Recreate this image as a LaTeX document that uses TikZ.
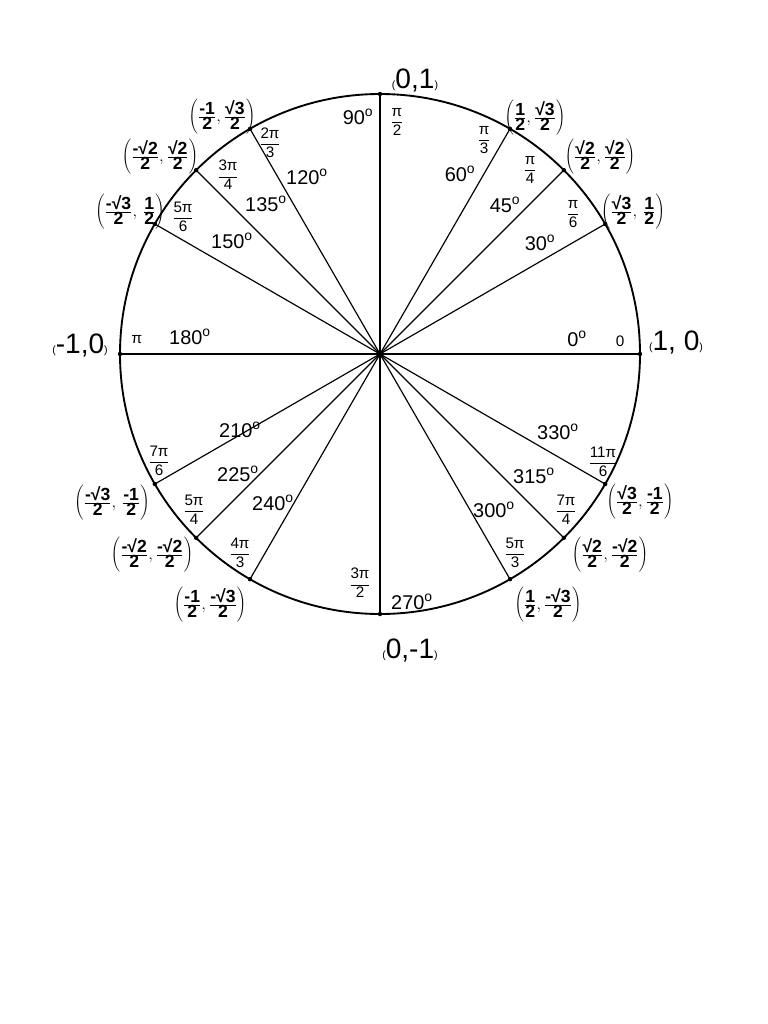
\documentclass[tikz,border=0pt]{standalone}
\usepackage{fontspec}
\setmainfont{Liberation Sans}
\usetikzlibrary{calc}
\newcommand\fr[2]{$\displaystyle\frac{\mbox{#1}}{\mbox{#2}}$}
\begin{document}
\begin{tikzpicture}[x=0.03cm,y=-0.03cm,
  deg/.style={font=\fontsize{17}{17}\selectfont,inner sep=0},
  rad/.style={font=\fontsize{13}{13}\selectfont,inner sep=0},
  crd/.style={font=\fontsize{15}{15}\selectfont\bfseries,inner sep=0},
  big/.style={font=\fontsize{24}{24}\selectfont,inner sep=0}]
\useasboundingbox (0,0) rectangle (768,1024);
\coordinate (O) at (380,354);
\draw[line width=1.6pt] (O) circle [radius=260];
\foreach \a in {0,30,45,60,90,120,135,150,180,210,225,240,270,300,315,330}{
  \coordinate (p\a) at ($(O)+(\a:260 and -260)$);
  \draw[line width=1pt] (O) -- (p\a);
  \fill (p\a) circle [radius=2.2];
}
% degrees
\node[deg] (d0) at (577,339) {0$^{\mathrm o}$};
\node[deg] (d30) at (540,243) {30$^{\mathrm o}$};
\node[deg] (d45) at (505,205) {45$^{\mathrm o}$};
\node[deg] (d60) at (460,174) {60$^{\mathrm o}$};
\node[deg] (d90) at (358,117) {90$^{\mathrm o}$};
\node[deg] (d120) at (307,177) {120$^{\mathrm o}$};
\node[deg] (d135) at (266,204) {135$^{\mathrm o}$};
\node[deg] (d150) at (232,241) {150$^{\mathrm o}$};
\node[deg] (d180) at (190,337) {180$^{\mathrm o}$};
\node[deg] (d210) at (240,430) {210$^{\mathrm o}$};
\node[deg] (d225) at (238,474) {225$^{\mathrm o}$};
\node[deg] (d240) at (273,503) {240$^{\mathrm o}$};
\node[deg] (d270) at (412,602) {270$^{\mathrm o}$};
\node[deg] (d300) at (494,510) {300$^{\mathrm o}$};
\node[deg] (d315) at (534,476) {315$^{\mathrm o}$};
\node[deg] (d330) at (558,432) {330$^{\mathrm o}$};
% radians
\node[rad] (r0) at (620,341) {0};
\node[rad] (r30) at (573,214) {\fr{π}{6}};
\node[rad] (r45) at (530,170) {\fr{π}{4}};
\node[rad] (r60) at (484,140) {\fr{π}{3}};
\node[rad] (r90) at (397,122) {\fr{π}{2}};
\node[rad] (r120) at (270,143) {\fr{2π}{3}};
\node[rad] (r135) at (228,175) {\fr{3π}{4}};
\node[rad] (r150) at (183,217) {\fr{5π}{6}};
\node[rad] (r180) at (137,340) {π};
\node[rad] (r210) at (159,461) {\fr{7π}{6}};
\node[rad] (r225) at (194,510) {\fr{5π}{4}};
\node[rad] (r240) at (240,553) {\fr{4π}{3}};
\node[rad] (r270) at (360,583) {\fr{3π}{2}};
\node[rad] (r300) at (515,553) {\fr{5π}{3}};
\node[rad] (r315) at (566,510) {\fr{7π}{4}};
\node[rad] (r330) at (603,462) {\fr{11π}{6}};
% coordinates
\node[big] (c90) at (415,80) {{\small(}0,1{\small)}};
\node[big] (c0) at (676,342) {{\small(}1, 0{\small)}};
\node[big] (c180) at (80,345) {{\small(}-1,0{\small)}};
\node[big] (c270) at (410,650) {{\small(}0,-1{\small)}};
\node[crd] (c60) at (535,118) {$\left(\frac{\mbox{1}}{\mbox{2}},\frac{\mbox{√3}}{\mbox{2}}\right)$};
\node[crd] (c45) at (600,157) {$\left(\frac{\mbox{√2}}{\mbox{2}},\frac{\mbox{√2}}{\mbox{2}}\right)$};
\node[crd] (c30) at (633,212) {$\left(\frac{\mbox{√3}}{\mbox{2}},\,\frac{\mbox{1}}{\mbox{2}}\right)$};
\node[crd] (c120) at (222,117) {$\left(\frac{\mbox{-1}}{\mbox{2}},\frac{\mbox{√3}}{\mbox{2}}\right)$};
\node[crd] (c135) at (160,157) {$\left(\frac{\mbox{-√2}}{\mbox{2}},\frac{\mbox{√2}}{\mbox{2}}\right)$};
\node[crd] (c150) at (130,212) {$\left(\frac{\mbox{-√3}}{\mbox{2}},\,\frac{\mbox{1}}{\mbox{2}}\right)$};
\node[crd] (c210) at (112,503) {$\left(\frac{\mbox{-√3}}{\mbox{2}},\,\frac{\mbox{-1}}{\mbox{2}}\right)$};
\node[crd] (c225) at (152,555) {$\left(\frac{\mbox{-√2}}{\mbox{2}},\frac{\mbox{-√2}}{\mbox{2}}\right)$};
\node[crd] (c240) at (210,605) {$\left(\frac{\mbox{-1}}{\mbox{2}},\frac{\mbox{-√3}}{\mbox{2}}\right)$};
\node[crd] (c300) at (548,605) {$\left(\frac{\mbox{1}}{\mbox{2}},\frac{\mbox{-√3}}{\mbox{2}}\right)$};
\node[crd] (c315) at (610,555) {$\left(\frac{\mbox{√2}}{\mbox{2}},\frac{\mbox{-√2}}{\mbox{2}}\right)$};
\node[crd] (c330) at (640,502) {$\left(\frac{\mbox{√3}}{\mbox{2}},\frac{\mbox{-1}}{\mbox{2}}\right)$};
\end{tikzpicture}
\end{document}
